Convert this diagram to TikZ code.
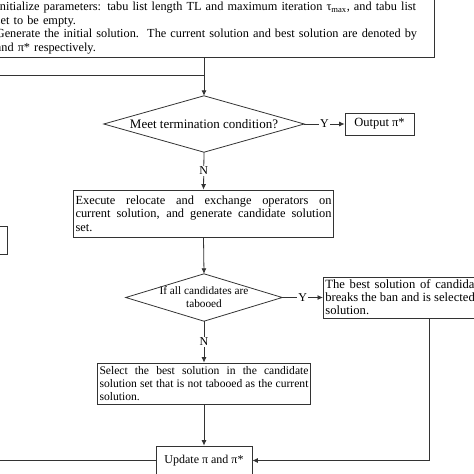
\documentclass[tikz,border=0pt]{standalone}
\usepackage{fontspec}
\setmainfont{Liberation Serif}
\usetikzlibrary{arrows.meta}
\newlength\banwidth
\begin{document}
\settowidth\banwidth{\fontsize{12.6}{13}\selectfont breaks the ban and is selected as}%
\begin{tikzpicture}[x=1pt,y=-1pt,
  line/.style={draw=black!80, line width=0.8pt},
  arr/.style={line, -{Latex[length=5.5pt,width=5pt]}},
  box/.style={rectangle, draw=black!80, line width=0.8pt, inner sep=2pt},
  dia/.style={rectangle, draw=none, inner sep=0pt, align=center},
  lab/.style={fill=white, inner sep=0.8pt, font=\fontsize{12}{13}\selectfont}]
\useasboundingbox (0,0) rectangle (474,474);
\clip (0,0) rectangle (474,474);

% nodes
\node[box, font=\fontsize{12.3}{13.5}\selectfont, text width=436pt, align=left, minimum height=59pt, anchor=north west]
  (init) at (-6.5,-2) {Initialize parameters: tabu list length TL and maximum iteration τ\textsubscript{max}, and tabu list\\
  set to be empty.\\
  Generate the initial solution.\ \ The current solution and best solution are denoted by\\
  and π* respectively.};

\node[dia, minimum width=200pt, minimum height=56pt, font=\fontsize{13}{14}\selectfont] (d1) at (204,124) {Meet termination condition?};
\node[box, font=\fontsize{12.5}{14}\selectfont, minimum width=69pt, minimum height=22pt] (out) at (379.5,124) {Output π*};

\node[box, font=\fontsize{12.4}{13.5}\selectfont, text width=256pt, align=justify, minimum height=47pt] (exec) at (203.5,213.5)
  {Execute relocate and exchange operators on\linebreak current solution, and generate candidate solution\linebreak set.};

\node[box, minimum width=60pt, minimum height=28pt] (side) at (-23,240) {};

\node[dia, minimum width=156pt, minimum height=47pt, font=\fontsize{11.3}{13}\selectfont] (d2) at (204,297.5) {If all candidates are\\tabooed};

\node[box, font=\fontsize{12.6}{13}\selectfont, text width=\banwidth, align=justify, minimum height=41pt, anchor=west] (ban) at (323,297.5)
  {The best solution of candidates\linebreak breaks the ban and is selected as\linebreak solution.};

\node[box, font=\fontsize{11.6}{13}\selectfont, text width=209pt, align=justify, minimum height=41pt] (sel) at (204,383.5)
  {Select the best solution in the candidate\linebreak solution set that is not tabooed as the current\linebreak solution.};

\node[box, font=\fontsize{12}{14}\selectfont, minimum width=96pt, minimum height=29pt] (upd) at (204,460.5) {Update π and π*};

% diamonds
\draw[line] (d1.north) -- (d1.east) -- (d1.south) -- (d1.west) -- cycle;
\draw[line] (d2.north) -- (d2.east) -- (d2.south) -- (d2.west) -- cycle;

% connectors
\coordinate (join) at (204,75);
\draw[arr] (init.south -| d1.north) -- (d1.north);
\draw[arr] (d1.east) -- node[lab]{Y} (out.west);
\draw[arr] (d1.south) -- node[lab]{N} (exec.north);
\draw[arr] (exec.south) -- (d2.north);
\draw[arr] (d2.east) -- node[lab]{Y} (ban.west);
\draw[arr] (d2.south) -- node[lab]{N} (sel.north);
\draw[arr] (sel.south) -- (upd.north);
\draw[arr] ([xshift=106pt]ban.south west) |- (upd.east);
\draw[line] (upd.west) -| (side.south);
\draw[line] (side.north) |- (join);
\end{tikzpicture}
\end{document}
